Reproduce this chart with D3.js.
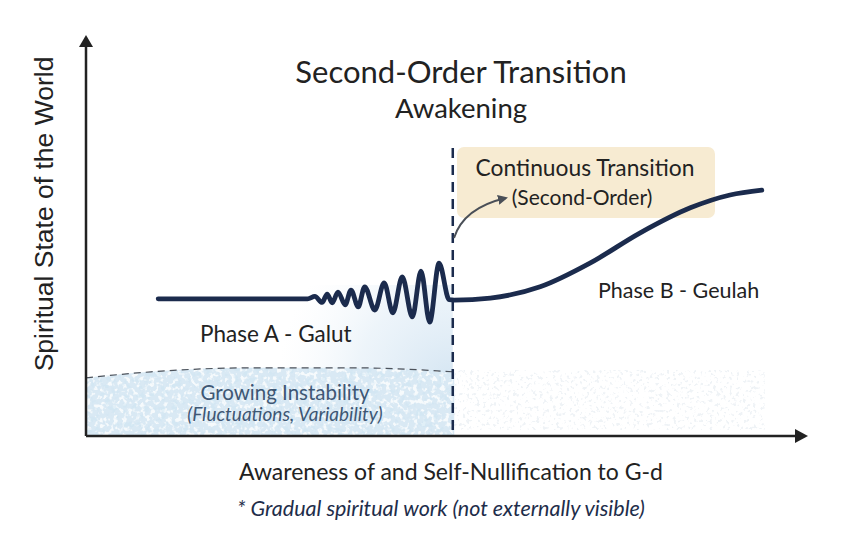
<!DOCTYPE html>
<html><head><meta charset="utf-8">
<script src="https://cdn.jsdelivr.net/npm/d3@7"></script>
<style>html,body{margin:0;padding:0;background:#fff;}svg{display:block;}</style>
</head><body>
<svg id="chart" width="864" height="545"></svg>
<script>
// ---- data (arbitrary conceptual units, 0-100) ----
const curveX = [10, 30.7, 31.7, 32.7, 33.4, 34.1, 34.9, 35.9, 36.7, 37.7, 38.6, 40.0, 41.3, 42.5, 43.8, 45.2, 46.4, 47.6, 48.9, 50.3, 51.0, 56.0, 62.9, 69.8, 76.7, 83.7, 89.2, 93.6];
const curveY = [34.2, 34.2, 34.8, 33.3, 35.4, 33.2, 35.9, 32.7, 36.4, 32.2, 37.2, 31.4, 38.2, 30.7, 39.7, 29.7, 41.1, 28.4, 43.1, 34.0, 33.9, 34.4, 37.2, 43.1, 50.6, 56.9, 60.1, 61.3];
const instabilityX = [0, 9, 23, 37, 51];
const instabilityY = [14.5, 16.0, 17.0, 17.0, 16.0];
const transitionX = 50.8;
const transitionTop = 71.8;
const titleLines = ["Second-Order Transition", "Awakening"];
const boxLines = ["Continuous Transition", "(Second-Order)"];
const phaseLabels = ["Phase A - Galut", "Phase B - Geulah"];
const instabilityLabels = ["Growing Instability", "(Fluctuations, Variability)"];
const axisLabels = ["Spiritual State of the World", "Awareness of and Self-Nullification to G-d"];
const footnote = "* Gradual spiritual work (not externally visible)";

const svg = d3.select("#chart");
const x = d3.scaleLinear().domain([0, 100]).range([86, 808]);
const y = d3.scaleLinear().domain([0, 100]).range([436, 35]);
const navy = "#1b2b4d";
const sans = "Lato, 'Open Sans', sans-serif";

const defs = svg.append("defs");
// speckle texture filters
function speckle(id, freq, seed, rgb, matA) {
  const f = defs.append("filter").attr("id", id).attr("x", 0).attr("y", 0).attr("width", 1).attr("height", 1);
  f.append("feTurbulence").attr("type", "fractalNoise").attr("baseFrequency", freq).attr("numOctaves", 2).attr("seed", seed).attr("result", "n");
  f.append("feColorMatrix").attr("in", "n").attr("type", "matrix")
    .attr("values", `0 0 0 0 ${rgb[0]}  0 0 0 0 ${rgb[1]}  0 0 0 0 ${rgb[2]}  0 0 0 ${matA[0]} ${matA[1]}`).attr("result", "c");
  f.append("feComposite").attr("in", "c").attr("in2", "SourceGraphic").attr("operator", "in");
}
speckle("speckW", 0.22, 3, [1, 1, 1], [7, -3.6]);
speckle("speckB", 0.18, 9, [0.62, 0.78, 0.89], [7, -3.8]);
speckle("speckG", 0.3, 5, [0.72, 0.78, 0.84], [9, -5.2]);

const rg = defs.append("radialGradient").attr("id", "glow").attr("gradientUnits", "userSpaceOnUse")
  .attr("cx", 452).attr("cy", 385).attr("r", 175);
rg.append("stop").attr("offset", 0).attr("stop-color", "#cfe2f1").attr("stop-opacity", 0.9);
rg.append("stop").attr("offset", 0.55).attr("stop-color", "#dfecf6").attr("stop-opacity", 0.55);
rg.append("stop").attr("offset", 1).attr("stop-color", "#f2f7fb").attr("stop-opacity", 0);

const mk = defs.append("marker").attr("id", "arr").attr("viewBox", "0 0 10 10").attr("refX", 8).attr("refY", 5)
  .attr("markerWidth", 5).attr("markerHeight", 5).attr("orient", "auto");
mk.append("path").attr("d", "M0,0 L10,5 L0,10 z").attr("fill", "#4a4f57");

// instability area
const instLine = d3.line().x((d, i) => x(instabilityX[i])).y((d, i) => y(instabilityY[i])).curve(d3.curveMonotoneX);
const instArea = d3.area().x((d, i) => x(instabilityX[i])).y0(y(0)).y1((d, i) => y(instabilityY[i])).curve(d3.curveMonotoneX);
defs.append("clipPath").attr("id", "instClip").append("path").attr("d", instArea(instabilityX));

// glow behind oscillation
svg.append("rect").attr("x", 280).attr("y", 285).attr("width", x(transitionX) - 280).attr("height", y(0) - 285)
  .attr("fill", "url(#glow)");
svg.append("path").attr("d", instArea(instabilityX)).attr("fill", "#d9e9f4");
["speckW", "speckB"].forEach((id, k) => {
  svg.append("rect").attr("x", x(0)).attr("y", 360).attr("width", x(transitionX) - x(0)).attr("height", y(0) - 360)
    .attr("fill", "#fff").attr("filter", `url(#${id})`).attr("clip-path", "url(#instClip)").attr("opacity", k ? 0.55 : 0.75);
});
// faint right speckles
svg.append("rect").attr("x", x(transitionX)).attr("y", 370).attr("width", 312).attr("height", 60)
  .attr("fill", "#fff").attr("filter", "url(#speckG)").attr("opacity", 0.45);

svg.append("path").attr("d", instLine(instabilityX)).attr("fill", "none").attr("stroke", "#4d535c")
  .attr("stroke-width", 1.2).attr("stroke-dasharray", "7,5");

// box
svg.append("rect").attr("x", 457).attr("y", 147).attr("width", 258).attr("height", 71).attr("rx", 7)
  .attr("fill", "#f7ebd2");

// axes
const yAxis = svg.append("g").attr("transform", `translate(${x(0)},0)`)
  .call(d3.axisLeft(y).ticks(0).tickSizeOuter(0));
yAxis.select(".domain").attr("stroke", "#222").attr("stroke-width", 2.5).attr("d", `M0,${y(0)}V${y(97)}`);
const xAxis = svg.append("g").attr("transform", `translate(0,${y(0)})`)
  .call(d3.axisBottom(x).ticks(0).tickSizeOuter(0));
xAxis.select(".domain").attr("stroke", "#222").attr("stroke-width", 2.5).attr("d", `M${x(0)},0H${x(98.2)}`);
svg.append("path").attr("d", `M${x(0)-7},${y(97)} L${x(0)},${y(100)} L${x(0)+7},${y(97)} Z`).attr("fill", "#222");
svg.append("path").attr("d", `M${x(98.2)},${y(0)-7} L${x(100)},${y(0)} L${x(98.2)},${y(0)+7} Z`).attr("fill", "#222");

// transition dashed line
svg.append("line").attr("x1", x(transitionX)).attr("x2", x(transitionX)).attr("y1", y(transitionTop)).attr("y2", y(0))
  .attr("stroke", navy).attr("stroke-width", 2.5).attr("stroke-dasharray", "10,7");

// main curve
const line = d3.line().x((d, i) => x(curveX[i])).y((d, i) => y(curveY[i])).curve(d3.curveMonotoneX);
svg.append("path").attr("d", line(curveX)).attr("fill", "none").attr("stroke", navy)
  .attr("stroke-width", 4.8).attr("stroke-linecap", "round").attr("stroke-linejoin", "round");

// arrow
svg.append("path").attr("d", "M454,238 C461,216 480,204 506,198").attr("fill", "none")
  .attr("stroke", "#4a4f57").attr("stroke-width", 2).attr("marker-end", "url(#arr)");

// text
function label(t, px, py, size, opts = {}) {
  return svg.append("text").attr("x", px).attr("y", py).attr("text-anchor", opts.anchor || "middle")
    .attr("font-family", opts.family || sans).attr("font-size", size)
    .attr("font-style", opts.italic ? "italic" : null).attr("fill", opts.fill || "#222").text(t);
}
label(titleLines[0], 461, 83, 31);
label(titleLines[1], 461, 118, 27.5);
label(boxLines[0], 585, 176, 22.8);
label(boxLines[1], 582, 205, 21);
label(phaseLabels[0], 200, 342, 22.5, { anchor: "start" });
label(phaseLabels[1], 598, 298, 21.5, { anchor: "start" });
label(instabilityLabels[0], 285, 400, 20.5, { fill: "#3e5774" });
label(instabilityLabels[1], 285, 421, 19, { italic: true, fill: "#3e5774" });
svg.append("text").attr("transform", "translate(53,214) rotate(-90)").attr("text-anchor", "middle")
  .attr("font-family", "'Liberation Sans', Arial, sans-serif").attr("font-size", 26.5).attr("fill", "#222").text(axisLabels[0]);
label(axisLabels[1], 451, 480, 23);
label(footnote, 441, 516, 21.5, { italic: true, fill: "#1e2d4a" });
</script>
</body></html>
